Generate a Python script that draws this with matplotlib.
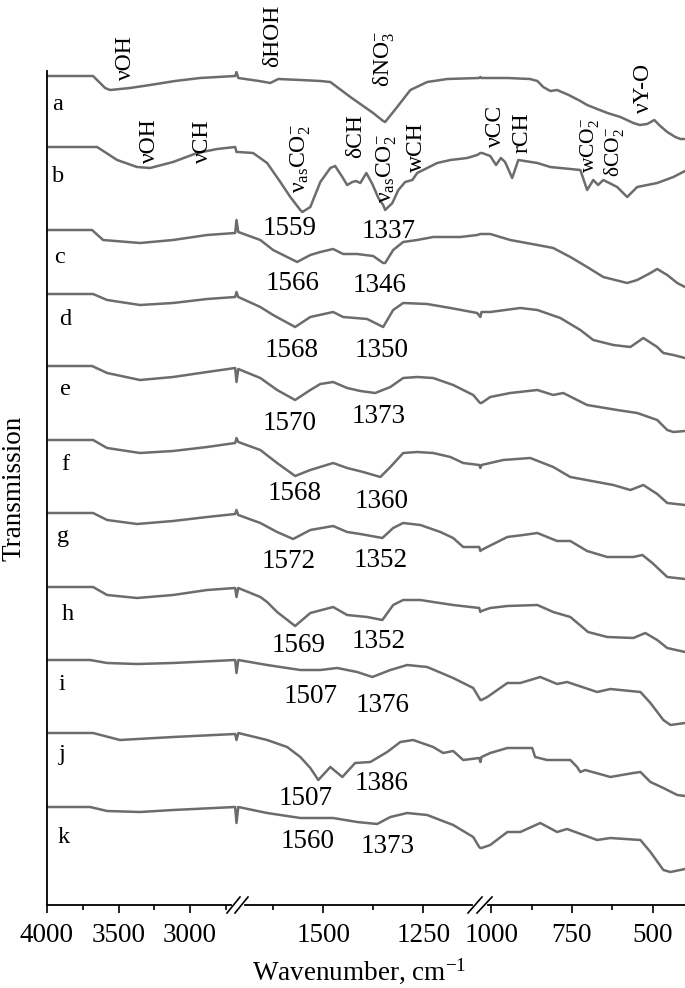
import numpy as np
import matplotlib
matplotlib.use("Agg")
import matplotlib.pyplot as plt
from matplotlib.lines import Line2D

plt.rcParams['font.family'] = ['Liberation Serif', 'DejaVu Serif']
plt.rcParams['mathtext.fontset'] = 'custom'
plt.rcParams['mathtext.rm'] = 'Liberation Serif'
plt.rcParams['mathtext.it'] = 'Liberation Serif:italic'
plt.rcParams['mathtext.bf'] = 'Liberation Serif:bold'
plt.rcParams['mathtext.sf'] = 'Liberation Serif'

# ---------------- data (relative transmission, a.u.) ----------------
curve_names = ['a', 'b', 'c', 'd', 'e', 'f', 'g', 'h', 'i', 'j', 'k']

wn_a = [4000, 3678, 3594, 3559, 3420, 3280, 3105, 2930, 2685, 2200,
        1712, 1660, 1632, 1612, 1557, 1507, 1482, 1432, 1375, 1350, 1345, 1315, 1282, 1240, 1190, 1110, 1070,
        1031, 950, 880, 857, 839, 817, 796, 760, 724, 703, 672, 640, 600, 560, 540, 517, 495, 480, 455, 430, 414, 400]
tr_a = [0, 0, -12, -14, -12, -9, -5, -2, 0, 4,
        -2, -5, -7, -3, -4, -5, -6, -21, -37, -45, -46, -31, -14, -6, -3, -2, -1,
        -2, -2, -3, -5, -11, -15, -14, -19, -25, -29, -33, -37, -41, -47, -49, -48, -44, -49, -56, -61, -63, -63]

wn_b = [4000, 3650, 3510, 3371, 3280, 3119, 2951, 2811, 2685, 2200,
        1712, 1675, 1640, 1607, 1582, 1557, 1552, 1532, 1507, 1482, 1470, 1452, 1440, 1427, 1418, 1407, 1392,
        1377, 1362, 1350, 1345, 1327, 1312, 1295, 1277, 1265, 1240, 1215, 1182, 1140, 1115, 1070,
        1028, 1003, 985, 970, 957, 935, 916, 857, 817, 724, 703, 684, 669, 653, 610, 579, 548, 486, 436, 400]
tr_b = [0, 0, -13, -20, -21, -15, -6, -2, 0, -5,
        -5, -6, -16, -35, -50, -63, -65, -60, -35, -21, -19, -30, -38, -35, -34, -36, -26,
        -37, -51, -58, -63, -56, -43, -35, -33, -26, -21, -16, -13, -11, -8, -6,
        -6, -9, -18, -11, -15, -31, -13, -16, -20, -23, -43, -33, -38, -33, -40, -50, -40, -36, -30, -24]

wn_c = [4000, 3685, 3608, 3350, 3119, 2881, 2685, 2200,
        1712, 1657, 1625, 1565, 1532, 1507, 1475, 1450, 1415, 1375, 1350, 1345, 1325, 1300, 1265, 1225, 1157, 1115, 1070,
        1031, 1003, 941, 857, 808, 755, 703, 653, 579, 548, 507, 486, 455, 424, 400]
tr_c = [0, 0, -10, -13, -10, -5, -3, 10,
        -2, -10, -20, -32, -25, -22, -19, -24, -24, -26, -33, -33, -20, -12, -10, -7, -7, -5, -4,
        -4, -4, -10, -15, -18, -27, -37, -47, -53, -50, -43, -39, -45, -53, -57]

wn_d = [4000, 3678, 3580, 3350, 3119, 2881, 2685, 2200,
        1712, 1657, 1625, 1570, 1532, 1475, 1450, 1390, 1350, 1325, 1300, 1240, 1182, 1115, 1070,
        1031, 1003, 910, 857, 786, 724, 684, 622, 569, 529, 486, 467, 436, 400]
tr_d = [0, 0, -6, -11, -9, -5, -3, 2,
        -3, -13, -21, -33, -23, -18, -23, -25, -33, -16, -9, -10, -14, -19, -23,
        -18, -18, -14, -16, -24, -36, -46, -51, -53, -44, -53, -59, -61, -64]

wn_e = [4000, 3685, 3580, 3350, 3119, 2881, 2685, 2200,
        1712, 1657, 1615, 1570, 1532, 1507, 1475, 1440, 1407, 1370, 1332, 1300, 1265, 1225, 1175, 1125, 1110, 1070,
        1031, 1003, 941, 857, 808, 777, 703, 610, 548, 486, 455, 436, 400]
tr_e = [0, 0, -7, -14, -11, -6, -2, -16,
        -3, -12, -24, -34, -24, -18, -16, -22, -25, -27, -21, -12, -11, -12, -19, -29, -36, -37,
        -37, -31, -27, -24, -29, -27, -39, -44, -47, -54, -64, -66, -65]

wn_f = [4000, 3678, 3580, 3350, 3119, 2881, 2685, 2200,
        1712, 1657, 1615, 1570, 1532, 1475, 1440, 1400, 1357, 1332, 1300, 1265, 1225, 1182, 1150, 1110, 1070,
        1031, 1003, 963, 879, 808, 755, 672, 622, 569, 529, 486, 455, 400]
tr_f = [0, 0, -8, -13, -11, -7, -3, 2,
        -2, -10, -23, -36, -30, -23, -28, -32, -37, -27, -13, -12, -13, -17, -23, -25, -28,
        -25, -23, -20, -18, -27, -37, -42, -45, -50, -45, -54, -63, -65]

wn_g = [4000, 3678, 3580, 3371, 3119, 2881, 2685, 2200,
        1712, 1657, 1615, 1575, 1532, 1475, 1440, 1407, 1352, 1325, 1300, 1257, 1207, 1175, 1150, 1110, 1070,
        1031, 1012, 950, 901, 857, 796, 755, 703, 641, 560, 532, 501, 455, 400]
tr_g = [0, 0, -7, -11, -8, -4, -1, 3,
        -2, -10, -19, -26, -17, -13, -19, -21, -25, -15, -10, -12, -19, -25, -34, -34, -38,
        -37, -34, -24, -22, -20, -28, -28, -38, -44, -44, -42, -50, -64, -66]

wn_h = [4000, 3678, 3580, 3371, 3119, 2881, 2685, 2200,
        1712, 1657, 1640, 1615, 1570, 1532, 1475, 1440, 1390, 1352, 1325, 1300, 1257, 1225, 1175, 1110, 1070,
        1031, 1003, 950, 857, 808, 755, 700, 641, 560, 523, 486, 455, 400]
tr_h = [0, 0, -8, -11, -8, -3, -1, -10,
        -1, -10, -15, -25, -39, -26, -20, -28, -30, -33, -18, -13, -13, -15, -18, -21, -25,
        -24, -21, -19, -18, -25, -30, -45, -50, -51, -46, -53, -61, -65]

wn_i = [4000, 3699, 3580, 3371, 3119, 2685, 2200,
        1712, 1640, 1557, 1507, 1465, 1415, 1377, 1332, 1290, 1240, 1175, 1125, 1110, 1070,
        1031, 1012, 950, 910, 848, 796, 765, 672, 631, 538, 507, 467, 445, 400]
tr_i = [0, 0, -3, -4, -3, 0, -13,
        0, -5, -10, -10, -8, -12, -17, -10, -5, -7, -18, -28, -38, -40,
        -40, -37, -23, -23, -17, -24, -22, -32, -29, -32, -43, -60, -65, -63]

wn_j = [4000, 3678, 3490, 3119, 2685, 2200,
        1712, 1640, 1590, 1557, 1532, 1512, 1482, 1452, 1420, 1382, 1340, 1307, 1275, 1225, 1200, 1175, 1150, 1110, 1070,
        1031, 1003, 950, 873, 864, 827, 755, 734, 724, 709, 653, 631, 560, 538, 507, 467, 424, 400]
tr_j = [0, 0, -7, -4, -1, -7,
        0, -7, -14, -24, -35, -47, -34, -44, -30, -29, -19, -9, -7, -14, -20, -18, -27, -25, -29,
        -24, -20, -15, -15, -24, -27, -27, -34, -39, -37, -42, -44, -40, -39, -49, -55, -62, -63]

wn_k = [4000, 3699, 3580, 3350, 3119, 2685, 2200,
        1712, 1640, 1557, 1475, 1415, 1365, 1332, 1290, 1240, 1175, 1125, 1110, 1070,
        1031, 1003, 950, 910, 848, 796, 765, 672, 631, 538, 507, 467, 445, 400]
tr_k = [0, 0, -4, -5, -3, 0, -16,
        0, -6, -11, -11, -15, -17, -10, -6, -8, -18, -30, -40, -41,
        -41, -38, -25, -25, -16, -25, -22, -33, -31, -33, -45, -63, -65, -62]

wn_list = [wn_a, wn_b, wn_c, wn_d, wn_e, wn_f, wn_g, wn_h, wn_i, wn_j, wn_k]
tr_list = [tr_a, tr_b, tr_c, tr_d, tr_e, tr_f, tr_g, tr_h, tr_i, tr_j, tr_k]

# vertical stacking offsets of the spectra
offsets = [76, 147, 230, 294, 366, 440, 513, 587, 660, 733, 807]

# peak labels
peak_rows = ['b', 'c', 'd', 'e', 'f', 'g', 'h', 'i', 'j', 'k']
peak1 = ['1559', '1566', '1568', '1570', '1568', '1572', '1569', '1507', '1507', '1560']
peak2 = ['1337', '1346', '1350', '1373', '1360', '1352', '1352', '1376', '1386', '1373']
peak1_pos = [(1585, 235), (1577, 290), (1580, 357), (1585, 430), (1572, 500),
             (1585, 568), (1562, 652), (1532, 703), (1545, 805), (1540, 848)]
peak2_pos = [(1337, 238), (1360, 292), (1355, 357), (1362, 423), (1355, 508),
             (1355, 567), (1362, 648), (1352, 712), (1355, 790), (1340, 853)]

letter_pos = [(3923, 110), (3923, 182), (3916, 263), (3874, 325), (3874, 395), (3874, 470),
              (3888, 542), (3853, 620), (3895, 690), (3895, 760), (3881, 843)]

band_labels = [r'νOH', r'δHOH', r'$\mathrm{δNO}_3^{-}$', r'νY-O',
               r'νOH', r'νCH', r'$\mathrm{ν}_{\mathrm{as}}\mathrm{CO}_2^{-}$', r'δCH',
               r'$\mathrm{ν}_{\mathrm{as}}\mathrm{CO}_2^{-}$', r'wCH', r'νCC', r'rCH',
               r'$\mathrm{wCO}_2^{-}$', r'$\mathrm{δCO}_2^{-}$']
band_pos = [(3455, 80), (1625, 67), (1348, 87), (529, 113),
            (3287, 163), (2916, 163), (1555, 193), (1420, 158),
            (1340, 203), (1267, 172), (988, 147), (904, 153),
            (695, 173), (621, 177)]
band_size = [17, 17, 17, 17, 17, 17, 17, 17, 17, 17, 17, 17, 15.5, 15.5]

major_ticks = [4000, 3500, 3000, 1500, 1250, 1000, 750, 500]
minor_ticks = [3750, 3250, 2750, 1625, 1375, 875, 625]

# ---------------- broken wavenumber axis via a piecewise scale ----------------
seg_wn = [400, 1030, 1110, 1715, 2680, 4000]
seg_pos = [-684.7, -481.3, -479.0, -237.0, -235.8, -47.0]


def fwd(w):
    return np.interp(np.asarray(w, dtype=float), seg_wn, seg_pos)


def inv(u):
    return np.interp(np.asarray(u, dtype=float), seg_pos, seg_wn)


W, H = 685, 988
fig = plt.figure(figsize=(W / 100, H / 100), dpi=100)
ax_l, ax_r, ax_t, ax_b = 47, 685, 71, 905
ax = fig.add_axes([ax_l / W, 1 - ax_b / H, (ax_r - ax_l) / W, (ax_b - ax_t) / H])
ax.set_xscale('function', functions=(fwd, inv))

line_col = '#6c6c6c'
for wn, tr, off in zip(wn_list, tr_list, offsets):
    ax.plot(wn, np.array(tr) - off, color=line_col, lw=1.8, solid_joinstyle='round')

ax.set_xlim(4000, 400)
ax.set_ylim(-ax_b, -ax_t)

ax.set_xticks(major_ticks)
ax.set_xticklabels([str(t) for t in major_ticks])
ax.set_xticks(minor_ticks, minor=True)
ax.set_yticks([])
ax.tick_params(axis='x', which='major', direction='out', length=6, width=1.2,
               labelsize=19.5, pad=7)
ax.tick_params(axis='x', which='minor', direction='out', length=3.6, width=1.2)
for s in ['top', 'right']:
    ax.spines[s].set_visible(False)
for s in ['left', 'bottom']:
    ax.spines[s].set_linewidth(1.3)

ax.set_xlabel(r'Wavenumber, cm$^{-1}$', fontsize=19.5)
ax.xaxis.set_label_coords((359 - ax_l) / (ax_r - ax_l), -0.062)
ax.set_ylabel('Transmission', fontsize=19.5, va='center')
ax.yaxis.set_label_coords((14 - ax_l) / (ax_r - ax_l), 0.5)


# axis break marks
def afx(px):
    return (px - ax_l) / (ax_r - ax_l)


def afy(py):
    return (ax_b - py) / (ax_b - ax_t)


for (g0, g1, slashes) in [(233.5, 241.5, [((227, 913), (240, 897)), ((235, 913), (248, 897))]),
                          (475, 484.5, [((468, 913), (482, 897)), ((477, 913), (492, 897))])]:
    ax.add_line(Line2D([afx(g0), afx(g1)], [afy(905), afy(905)], transform=ax.transAxes,
                       color='white', lw=3, clip_on=False, zorder=5))
    for (p0, p1) in slashes:
        ax.add_line(Line2D([afx(p0[0]), afx(p1[0])], [afy(p0[1]), afy(p1[1])],
                           transform=ax.transAxes, color='black', lw=1.2,
                           clip_on=False, zorder=6))

# curve letters
for name, (w, y) in zip(curve_names, letter_pos):
    ax.text(w, -y, name, fontsize=17.5, ha='center', va='baseline')

# peak labels
for p1, p2, (w1, y1), (w2, y2) in zip(peak1, peak2, peak1_pos, peak2_pos):
    ax.text(w1, -y1, p1, fontsize=19.5, ha='center', va='baseline')
    ax.text(w2, -y2, p2, fontsize=19.5, ha='center', va='baseline')

# band assignments
for lab, (w, y), fs in zip(band_labels, band_pos, band_size):
    ax.text(w, -y, lab, fontsize=fs, rotation=90, ha='center', va='bottom', clip_on=False)

fig.savefig('out.png', dpi=100)
